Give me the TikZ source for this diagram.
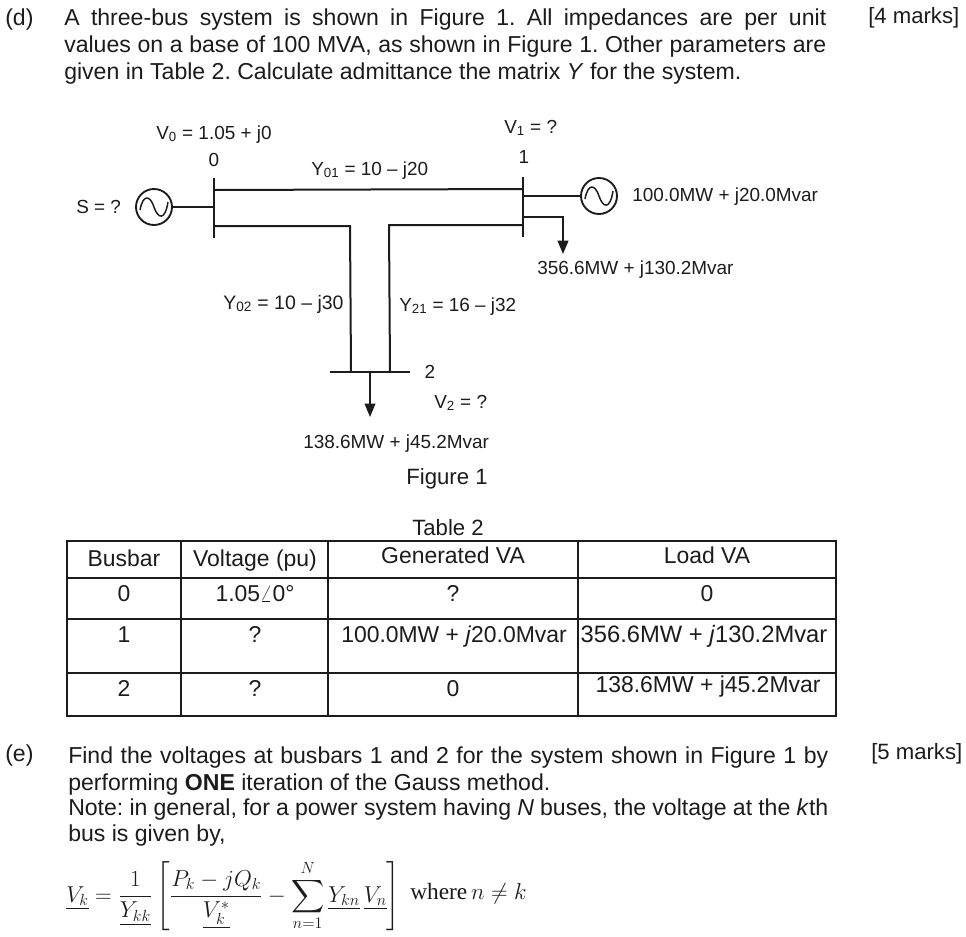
\documentclass[tikz,border=0pt]{standalone}
\usepackage{fontspec}
\usepackage{amsmath}
\setmainfont{Liberation Sans}
\newfontfamily\serifpart{Liberation Serif}
\frenchspacing
\newcommand{\body}{\fontsize{17.3}{20}\selectfont}
\newcommand{\dia}{\fontsize{14.2}{17}\selectfont}
\newcommand{\tbl}{\fontsize{17.2}{20}\selectfont}
\newcommand{\sq}[2]{\makebox[#1][s]{#2}}
\newcommand{\und}[1]{\underline{#1}}
\newlength{\pxu}\setlength{\pxu}{0.75pt}
\definecolor{ink}{HTML}{1C1C1C}
\usetikzlibrary{arrows.meta}
\tikzset{
 x=0.75pt,y=-0.75pt,
 every node/.style={text=ink},
 lbl/.style={anchor=base west,inner sep=0pt,font=\dia},
 cl/.style={anchor=base,inner sep=0pt,font=\dia},
 para/.style={anchor=base west,inner sep=0pt,font=\body},
 marks/.style={anchor=base west,inner sep=0pt,font=\fontsize{16.6}{19}\selectfont},
 tc/.style={anchor=base,inner sep=0pt,font=\tbl},
 wire/.style={draw=ink,line width=1.5pt},
 thin wire/.style={draw=ink,line width=1.1pt},
 busbar/.style={draw=ink,line width=1.6pt},
 gen/.style={circle,draw=ink,line width=1.4pt,minimum size=27pt,inner sep=0pt,fill=white},
 tline/.style={draw=ink,line width=1pt},
 loadhead/.style={-{Triangle[length=10pt,width=8pt]}},
}
\newcommand{\wave}[1]{\draw[draw=ink,line width=1.1pt] ([shift={(-14,3)}]#1.center) .. controls ([shift={(-11,-13)}]#1.center) and ([shift={(-4,-12)}]#1.center) .. (#1.center) .. controls ([shift={(4,12)}]#1.center) and ([shift={(11,14)}]#1.center) .. ([shift={(14,-5)}]#1.center);}
\begin{document}
\begin{tikzpicture}
\useasboundingbox[fill=white] (0,0) rectangle (966,936);
% header text
\node[para] (dtag) at (5,25) {(d)};
\node[para] (d1) at (64,25) {\sq{762\pxu}{A three-bus system is shown in Figure 1. All impedances are per unit}};
\node[para] (d2) at (64,52) {\sq{762\pxu}{values on a base of 100 MVA, as shown in Figure 1. Other parameters are}};
\node[para] (d3) at (64,79) {given in Table 2. Calculate admittance the matrix \textit{Y} for the system.};
\node[marks] (m4) at (868,23) {[4 marks]};
% diagram labels
\node[lbl] (v0) at (156,139) {V\textsubscript{0} = 1.05 + j0};
\node[cl] (n0) at (214,166) {0};
\node[lbl] (y01) at (311,175) {Y\textsubscript{01} = 10 -- j20};
\node[lbl] (sq) at (76,213) {S = ?};
\node[lbl] (v1) at (504,133) {V\textsubscript{1} = ?};
\node[cl] (n1) at (524,163) {1};
\node[lbl] (genl) at (632,201) {100.0MW + j20.0Mvar};
\node[lbl] (l1) at (537,274) {356.6MW + j130.2Mvar};
\node[lbl,font=\fontsize{14.6}{17}\selectfont] (y02) at (223,309) {Y\textsubscript{02} = 10 -- j30};
\node[lbl] (y21) at (399,311) {Y\textsubscript{21} = 16 -- j32};
\node[cl] (n2) at (430,378) {2};
\node[lbl] (v2) at (434,408) {V\textsubscript{2} = ?};
\node[lbl] (l2) at (303,448) {138.6MW + j45.2Mvar};
\node[cl,font=\fontsize{16.6}{19}\selectfont] (f1) at (447,484) {Figure 1};
\node[cl,font=\fontsize{16.6}{19}\selectfont] (t2) at (448,535) {Table 2};
% buses
\coordinate (b0t) at (214,178); \coordinate (b0b) at (214,238);
\coordinate (b1t) at (523,177); \coordinate (b1b) at (523,237);
\coordinate (b2l) at (330,372); \coordinate (b2r) at (410,372);
\draw[busbar] (b0t) -- (b0b);
\draw[busbar] (b1t) -- (b1b);
\draw[busbar] (b2l) -- (b2r);
% lines
\coordinate (a1) at (214,190); \coordinate (a2) at (523,189);
\draw[wire] (a1) -- (a2);
\coordinate (c1) at (214,226); \coordinate (c2) at (350,226); \coordinate (c3) at (351,372);
\draw[wire] (c1) -- (c2) -- (c3);
\coordinate (e1) at (523,225); \coordinate (e2) at (389,225); \coordinate (e3) at (390,372);
\draw[wire] (e1) -- (e2) -- (e3);
% generators
\node[gen] (g0) at (154,207) {};
\node[gen] (g1) at (599,196) {};
\wave{g0} \wave{g1}
\coordinate (g0b) at (214,207); \coordinate (g1b) at (523,196);
\draw[wire] (g0) -- (g0b);
\draw[wire] (g1) -- (g1b);
% loads
\coordinate (p1) at (523,217); \coordinate (p2) at (563,217); \coordinate (p3) at (563,254);
\draw[wire,loadhead] (p1) -- (p2) -- (p3);
\coordinate (q1) at (370,372); \coordinate (q2) at (370,417);
\draw[thin wire,loadhead] (q1) -- (q2);
% table
\coordinate (tl) at (67,541); \coordinate (br) at (836,716);
\draw[tline] (tl) rectangle (br);
\foreach \yy in {578,619,673} \draw[tline] (67,\yy) -- (836,\yy);
\foreach \xx in {181,328,578} \draw[tline] (\xx,541) -- (\xx,716);
\node[tc] (h1) at (124,566) {Busbar};
\node[tc] (h2) at (255,566) {Voltage (pu)};
\node[tc] (h3) at (453,563) {Generated VA};
\node[tc] (h4) at (707,563) {Load VA};
\node[tc] (r01) at (124,601) {0};
\node[tc] (r02) at (255,601) {1.05$\angle$0\textdegree};
\node[tc] (r03) at (453,601) {?};
\node[tc] (r04) at (707,601) {0};
\node[tc] (r11) at (124,642) {1};
\node[tc] (r12) at (255,642) {?};
\node[tc] (r13) at (454,642) {100.0MW + \textit{j}20.0Mvar};
\node[tc,font=\fontsize{17.8}{20}\selectfont] (r14) at (704,642) {356.6MW + \textit{j}130.2Mvar};
\node[tc] (r21) at (124,696) {2};
\node[tc] (r22) at (255,696) {?};
\node[tc] (r23) at (453,696) {0};
\node[tc] (r24) at (708,692) {138.6MW + j45.2Mvar};
% part e
\node[para] (etag) at (5,761) {(e)};
\node[para] (e1t) at (68,763) {\sq{760\pxu}{Find the voltages at busbars 1 and 2 for the system shown in Figure 1 by}};
\node[para] (e2t) at (68,790) {performing \textbf{ONE} iteration of the Gauss method.};
\node[para] (e3t) at (68,815) {\sq{760\pxu}{Note: in general, for a power system having \textit{N} buses, the voltage at the \textit{k}th}};
\node[para] (e4t) at (68,841) {bus is given by,};
\node[marks] (m5) at (871,759) {[5 marks]};
\node[anchor=base west,inner sep=0pt,font=\fontsize{16.8}{20}\selectfont] (eq) at (66,902)
 {$\und{V_k}=\dfrac{1}{\und{Y_{kk}}}\left[\dfrac{P_k-jQ_k}{\und{V_k^*}}-\displaystyle\sum_{n=1}^{N}\und{Y_{kn}}\,\und{V_n}\right]$};
\node[anchor=base west,inner sep=0pt,font=\fontsize{17.5}{20}\selectfont] (wh) at (410,899) {\serifpart where\,$n\neq k$};
\end{tikzpicture}
\end{document}
